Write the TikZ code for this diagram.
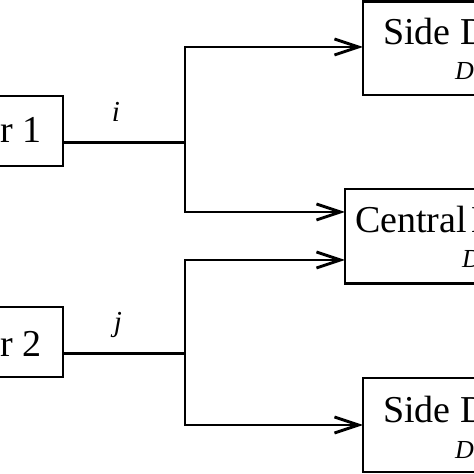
\documentclass[tikz,border=0pt]{standalone}
\usepackage{fontspec}
\setmainfont{Liberation Serif}
\usetikzlibrary{arrows.meta,calc}
\begin{document}
\begin{tikzpicture}[x=1pt,y=1pt,
  wire/.style={line width=2.9pt},
  arr/.style={wire,-{Straight Barb[length=24pt,width=16pt]}},
  box/.style={draw,line width=2.9pt,rectangle,inner sep=0pt,outer sep=0pt,anchor=north west},
  big/.style={inner sep=0pt,font=\fontsize{38}{42}\selectfont},
  small/.style={inner sep=0pt,font=\fontsize{26}{30}\selectfont},
  lab/.style={inner sep=0pt,font=\fontsize{29}{32}\selectfont}]
\useasboundingbox (0,0) rectangle (474,474);
\clip (0,0) rectangle (474,474);
% boxes
\node[box,minimum width=203pt,minimum height=70pt] (e1) at (-140,378) {};
\node[box,minimum width=203pt,minimum height=70pt] (e2) at (-140,167) {};
\node[box,minimum width=250pt,minimum height=93.5pt] (s1) at (363,472.5) {};
\node[box,minimum width=290pt,minimum height=94.5pt] (c) at (345,285) {};
\node[box,minimum width=250pt,minimum height=94pt] (s2) at (363,96) {};
% texts
\node[big,anchor=base east] (e1t) at (42,331) {Encoder 1};
\node[big,anchor=base east] (e2t) at (42,117.5) {Encoder 2};
\node[big,anchor=base west] (s1t) at (383,429) {Side Decoder 1};
\node[small,anchor=base west] (s1d) at (455,394) {\textit{D}\textsubscript{1}};
\node[big,anchor=base west] (ct) at (355,241) {Central\hspace{-5pt} Decoder};
\node[small,anchor=base west] (cd) at (462,206) {\textit{D}\textsubscript{0}};
\node[big,anchor=base west] (s2t) at (383,51) {Side Decoder 2};
\node[small,anchor=base west] (s2d) at (455,16) {\textit{D}\textsubscript{2}};
% junctions
\coordinate (o1) at (e1.south east |- 0,331.3);
\coordinate (o2) at (e2.south east |- 0,120.5);
\coordinate (j1) at (185,331.3);
\coordinate (j2) at (185,120.5);
\coordinate (t1) at (185,427);
\coordinate (m1) at (185,262);
\coordinate (m2) at (185,214);
\coordinate (b2) at (185,49);
% connectors
\draw[wire] (o1) -- (j1);
\draw[wire] (o2) -- (j2);
\node[lab,anchor=base] (li) at (116,352) {\textit{i}};
\node[lab,anchor=base] (lj) at (118,142) {\textit{j}};
\draw[arr] (j1) |- (t1 -| s1.west);
\draw[arr] (j1) |- (m1 -| c.west);
\draw[arr] (j2) |- (m2 -| c.west);
\draw[arr] (j2) |- (b2 -| s2.west);
\end{tikzpicture}
\end{document}
